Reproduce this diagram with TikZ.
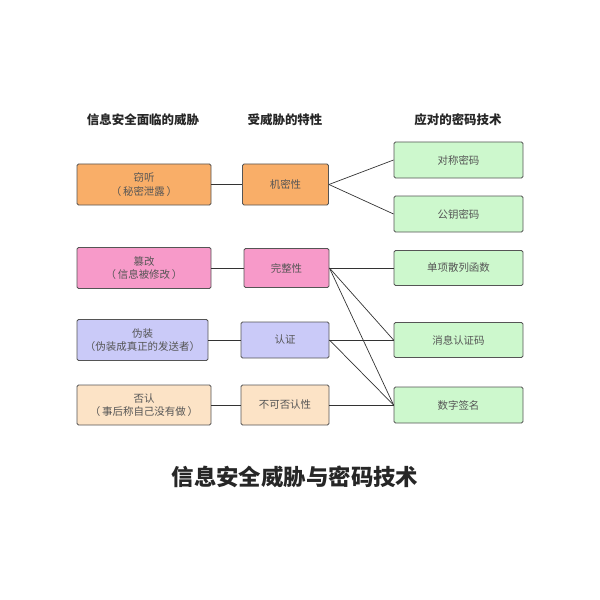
\documentclass[tikz,border=0pt]{standalone}
\usepackage{fontspec}
\setmainfont{Noto Sans CJK SC}
\newfontfamily\cjk{Noto Sans CJK SC}
\usetikzlibrary{positioning}
\definecolor{orangef}{HTML}{F9AE68}
\definecolor{pinkf}{HTML}{F79AC9}
\definecolor{lavf}{HTML}{CACAF8}
\definecolor{peachf}{HTML}{FCE3C6}
\definecolor{greenf}{HTML}{CDF8CD}
\definecolor{edgec}{HTML}{555555}
\definecolor{txtc}{HTML}{555555}
\begin{document}
\begin{tikzpicture}[x=1bp,y=-1bp,
  box/.style={draw=edgec,line width=0.9pt,rounded corners=1.5bp,inner sep=0pt,
    font=\cjk\fontsize{10.5}{13.5}\selectfont,text=txtc,align=center},
  lbox/.style={box,minimum width=134bp,minimum height=41bp},
  mbox/.style={box,minimum width=86bp,minimum height=39bp},
  rbox/.style={box,fill=greenf,minimum width=129bp,minimum height=36bp},
  head/.style={font=\cjk\bfseries\fontsize{12.5}{14}\selectfont,text=black!85},
  link/.style={draw=black!80,line width=0.7pt}]
\useasboundingbox (0,0) rectangle (600,600);
% headers
\node[head] (h1) at (143,120) {信息安全面临的威胁};
\node[head] (h2) at (285,120) {受威胁的特性};
\node[head] (h3) at (458,120) {应对的密码技术};
% left boxes
\node[lbox,fill=orangef] (l1) at (144,184.5) {窃听\\（\,秘密泄露\,）};
\node[lbox,fill=pinkf] (l2) at (144,268) {篡改\\（\,信息被修改\,）};
\node[lbox,fill=lavf,minimum width=131bp] (l3) at (142.5,340) {伪装\\（伪装成真正的发送者）};
\node[lbox,fill=peachf,minimum height=40bp] (l4) at (144,405) {否认\\（\,事后称自己没有做\,）};
% middle boxes
\node[mbox,fill=orangef,minimum height=41bp] (m1) at (285.5,184.5) {机密性};
\node[mbox,fill=pinkf,minimum width=85bp,minimum height=39bp] (m2) at (286.5,268) {完整性};
\node[mbox,fill=lavf,minimum width=88bp,minimum height=36bp] (m3) at (285,340) {认证};
\node[mbox,fill=peachf,minimum width=88bp,minimum height=40bp] (m4) at (285,405) {不可否认性};
% right boxes
\node[rbox] (r1) at (458.5,160) {对称密码};
\node[rbox] (r2) at (458.5,214) {公钥密码};
\node[rbox,minimum height=35bp] (r3) at (458.5,268) {单项散列函数};
\node[rbox,minimum height=35bp] (r4) at (458.5,340) {消息认证码};
\node[rbox] (r5) at (458.5,405) {数字签名};
% connectors
\draw[link] (l1.east) -- (m1.west);
\draw[link] (l2.east) -- (m2.west);
\draw[link] (l3.east) -- (m3.west);
\draw[link] (l4.east) -- (m4.west);
\draw[link] (m1.east) -- (r1.west);
\draw[link] (m1.east) -- (r2.west);
\draw[link] (m2.east) -- (r3.west);
\draw[link] (m2.east) -- (r4.west);
\draw[link] (m2.east) -- (r5.west);
\draw[link] (m3.east) -- (r4.west);
\draw[link] (m3.east) -- (r5.west);
\draw[link] (m4.east) -- (r5.west);
% title
\node[font=\cjk\bfseries\fontsize{22.5}{26}\selectfont,text=black!85] (title) at (295,477) {信息安全威胁与密码技术};
\end{tikzpicture}
\end{document}
